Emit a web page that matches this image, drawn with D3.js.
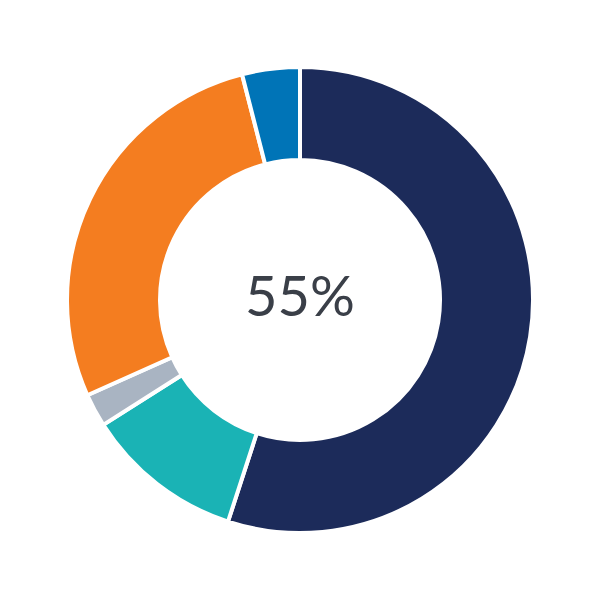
<!DOCTYPE html>
<html>
<head>
<meta charset="utf-8">
<script src="https://cdn.jsdelivr.net/npm/d3@7"></script>
<style>
  body { margin: 0; background: #fff; }
  svg { display: block; }
</style>
</head>
<body>
<div id="chart"></div>
<script>
var w = 600,
    h = 600,
    outerR = 233,
    innerR = 140;

// segment values, clockwise from 12 o'clock
var categories = ["A", "B", "C", "D", "E"];
var values = [55, 11, 2.3, 27.7, 4];
var colors = ["#1c2b5a", "#1ab3b5", "#a9b4c2", "#f47d20", "#0074b7"];
var centerLabel = "55%";

var svg = d3.select("#chart").append("svg")
    .attr("width", w)
    .attr("height", h);

var g = svg.append("g")
    .attr("transform", "translate(" + (w / 2) + "," + (h / 2) + ")");

var pie = d3.pie()
    .sort(null)
    .value(function(d) { return d; });

var arc = d3.arc()
    .innerRadius(innerR)
    .outerRadius(outerR);

var color = d3.scaleOrdinal()
    .domain(categories)
    .range(colors);

g.selectAll("path")
    .data(pie(values))
  .enter().append("path")
    .attr("d", arc)
    .attr("fill", function(d, i) { return color(categories[i]); })
    .attr("stroke", "#fff")
    .attr("stroke-width", 4)
    .attr("stroke-linejoin", "miter");

g.append("text")
    .attr("text-anchor", "middle")
    .attr("y", -4)
    .attr("dy", "0.35em")
    .style("font-family", "Lato, sans-serif")
    .style("font-size", "56px")
    .style("fill", "#3a3f48")
    .text(centerLabel);
</script>
</body>
</html>
